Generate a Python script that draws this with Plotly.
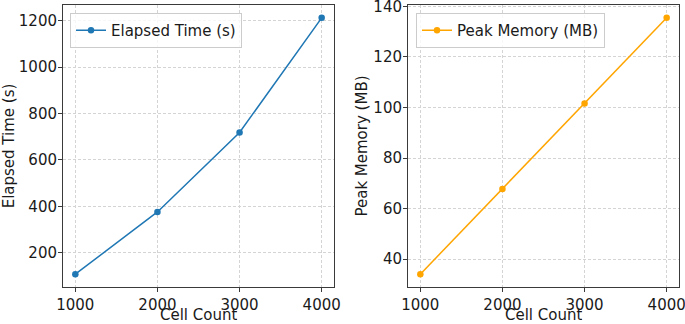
import plotly.graph_objects as go

cell_count = [1000, 2000, 3000, 4000]
elapsed_time = [108, 376, 718, 1212]
peak_memory = [34.0, 67.7, 101.6, 135.5]

x_ticks = [1000, 2000, 3000, 4000]
time_ticks = [200, 400, 600, 800, 1000, 1200]
mem_ticks = [40, 60, 80, 100, 120, 140]

FONT = "DejaVu Sans"
FS = 15
TXT = "#1a1a1a"

fig = go.Figure()
fig.add_trace(go.Scatter(x=cell_count, y=elapsed_time, mode="lines+markers",
                         name="Elapsed Time (s)", line=dict(color="#1f77b4", width=1.5),
                         marker=dict(size=6.5, color="#1f77b4"), xaxis="x", yaxis="y",
                         legend="legend"))
fig.add_trace(go.Scatter(x=cell_count, y=peak_memory, mode="lines+markers",
                         name="Peak Memory (MB)", line=dict(color="#FFA500", width=1.5),
                         marker=dict(size=6.5, color="#FFA500"), xaxis="x2", yaxis="y2",
                         legend="legend2"))

def pad_range(v):
    lo, hi = min(v), max(v)
    d = hi - lo
    return [lo - 0.05 * d, hi + 0.05 * d]

ax_common = dict(showline=True, linecolor="#3a3a3a", linewidth=1, mirror=True,
                 ticks="outside", ticklen=4, tickcolor="#3a3a3a",
                 showgrid=True, gridcolor="#d4d4d4", griddash="3px,2px", gridwidth=0.8,
                 zeroline=False, ticklabeloverflow="allow", automargin=False,
                 tickfont=dict(family=FONT, size=FS, color=TXT))

ydom = [37 / 324, 319 / 324]
fig.update_layout(
    width=685, height=324, margin=dict(l=0, r=0, t=0, b=0, autoexpand=False),
    paper_bgcolor="white", plot_bgcolor="white",
    font=dict(family=FONT, size=FS, color=TXT),
    xaxis=dict(domain=[63 / 685, 334 / 685], range=pad_range(cell_count), tickvals=x_ticks,
               anchor="y", **ax_common),
    yaxis=dict(domain=ydom, range=pad_range(elapsed_time), tickvals=time_ticks, ticklabelstandoff=-2,
               title=dict(text="Elapsed Time (s)", standoff=5, font=dict(size=FS)), anchor="x", **ax_common),
    xaxis2=dict(domain=[408 / 685, 679 / 685], range=pad_range(cell_count), tickvals=x_ticks,
                anchor="y2", **ax_common),
    yaxis2=dict(domain=ydom, range=pad_range(peak_memory), tickvals=mem_ticks, ticklabelstandoff=-2,
                title=dict(text="Peak Memory (MB)", standoff=2, font=dict(size=FS)), anchor="x2", **ax_common),
    legend=dict(x=70 / 685, y=1 - 13 / 324, xanchor="left", yanchor="top",
                bgcolor="rgba(255,255,255,0.8)", bordercolor="#cccccc", borderwidth=1,
                font=dict(family=FONT, size=FS)),
    legend2=dict(x=416 / 685, y=1 - 13 / 324, xanchor="left", yanchor="top",
                 bgcolor="rgba(255,255,255,0.8)", bordercolor="#cccccc", borderwidth=1,
                 font=dict(family=FONT, size=FS)),
    showlegend=True,
)

for xref in ["x domain", "x2 domain"]:
    fig.add_annotation(text="Cell Count", xref=xref, x=0.5, yref="paper", y=0,
                       xanchor="center", yanchor="bottom", showarrow=False, borderpad=0,
                       height=16, valign="middle",
                       font=dict(family=FONT, size=FS, color=TXT))

fig.write_html("out.html", config={"displayModeBar": False},
               post_script="document.body.style.margin='0px';")
